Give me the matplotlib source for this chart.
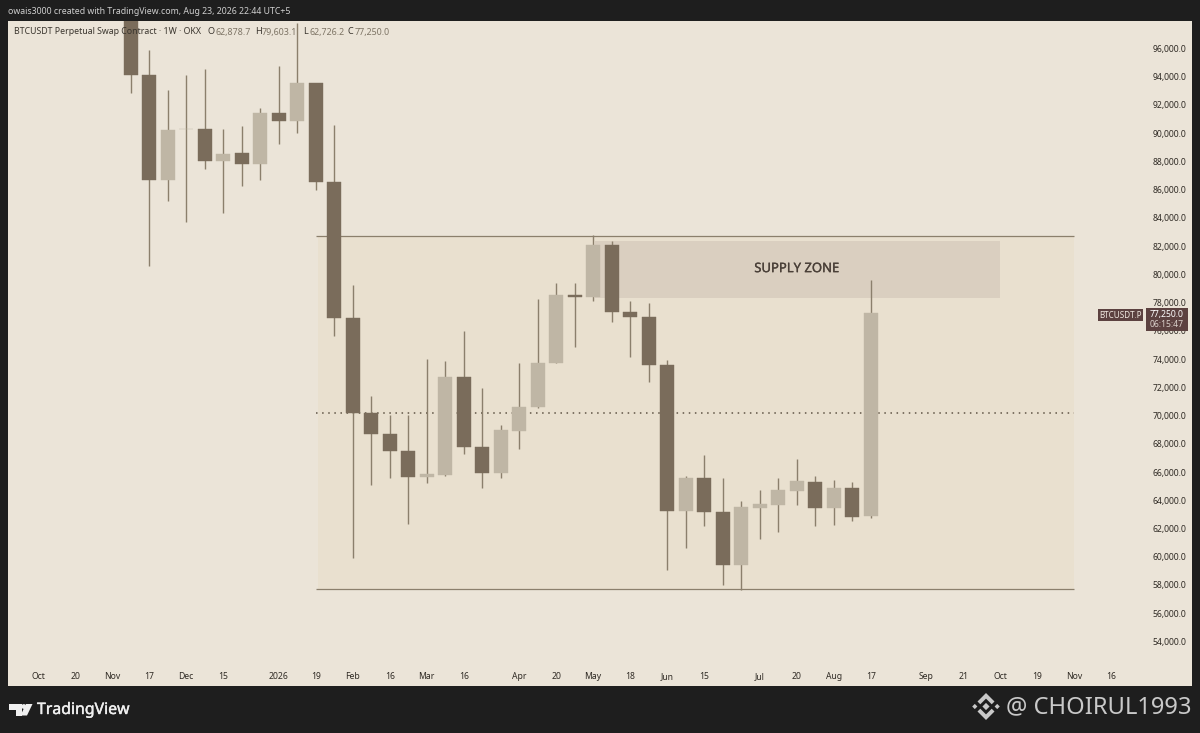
import matplotlib
matplotlib.use("Agg")
import matplotlib.pyplot as plt
import matplotlib.patheffects as pe
from matplotlib.patches import Polygon, Rectangle

# weekly candles, first bar is cut off by the top of the chart
opens = [98500, 94100, 86650, 90250, 90300, 88000, 88550, 87800, 91400, 90850,
         93550, 86550, 76900, 70200, 68700, 67500, 65650, 65800, 72750, 67750,
         65900, 68900, 70600, 73700, 78550, 78400, 82100, 77350, 76950, 73600,
         63250, 65600, 63200, 59450, 63450, 63650, 64650, 65300, 63450, 64850,
         62878.7]
highs = [99000, 95900, 93050, 94100, 94550, 90300, 90500, 91750, 94750, 97800,
         93550, 90550, 79250, 71400, 70050, 70050, 74000, 73850, 75950, 71950,
         69350, 73750, 78250, 79400, 79400, 82800, 82350, 78100, 78000, 73950,
         65700, 67200, 65550, 63950, 64700, 65550, 66900, 65700, 65450, 65300,
         79603.1]
lows = [92850, 80600, 85200, 83700, 87450, 84350, 86250, 86650, 89200, 90000,
        85950, 75650, 59900, 65100, 65600, 62300, 65200, 65700, 67250, 64900,
        65600, 67650, 70550, 73700, 74850, 78100, 76600, 74150, 72350, 59050,
        60650, 62200, 58000, 57650, 61250, 61750, 63650, 62200, 62250, 62500,
        62726.2]
closes = [94100, 86650, 90200, 90300, 88000, 88550, 87800, 91400, 90850, 93550,
          86550, 76900, 70200, 68700, 67500, 65650, 65850, 72750, 67750, 65900,
          69000, 70600, 73700, 78550, 78400, 82100, 77350, 76950, 73600, 63250,
          65600, 63200, 59450, 63500, 63700, 64700, 65350, 63450, 64850, 62800,
          77250]

price_ticks = list(range(54000, 98000, 2000))
time_ticks = [-5, -3, -1, 1, 3, 5, 8, 10, 12, 14, 16, 18, 21, 23, 25, 27, 29, 31,
              34, 36, 38, 40, 43, 45, 47, 49, 51, 53]
time_labels = ["Oct", "20", "Nov", "17", "Dec", "15", "2026", "19", "Feb", "16",
               "Mar", "16", "Apr", "20", "May", "18", "Jun", "15", "Jul", "20",
               "Aug", "17", "Sep", "21", "Oct", "19", "Nov", "16"]

range_high = 82700
range_mid = 70200
range_low = 57700
zone_top = 82350
zone_bottom = 78300

BG = "#ebe4d8"
RANGE_BG = "#e9e0cf"
ZONE = "#dacfc0"
DARK = "#7a6c5b"
LIGHT = "#bfb6a5"
WICK = "#8b7f6c"
FRAME = "#1e1e1e"
TAG = "#5c4140"
FONT = "Noto Sans"
thick = [pe.withStroke(linewidth=0.2, foreground="#4a4038")]
thick_white = [pe.withStroke(linewidth=0.3, foreground="#f0f0f0")]

fig = plt.figure(figsize=(12, 7.33), dpi=100, facecolor=FRAME)
ax = fig.add_axes([8 / 1200, 47 / 733, 1184 / 1200, 665 / 733], facecolor=BG)
ax.set_xlim(-6.63, 57.37)
ax.set_ylim(50849, 97931)
for s in ax.spines.values():
    s.set_visible(False)

# range box and supply zone
ax.add_patch(Rectangle((10.1, range_low), 40.9, range_high - range_low,
                       color=RANGE_BG, lw=0, zorder=1))
ax.add_patch(Rectangle((25.1, zone_bottom), 21.9, zone_top - zone_bottom,
                       color=ZONE, lw=0, zorder=2))
ax.hlines([range_high, range_low], 10, 51, color=WICK, lw=0.9, zorder=3)
ax.hlines(range_mid, 10, 51, color="#5f5445", lw=1.1, linestyles=(0, (1, 3)), zorder=3)
ax.text(36, 80400, "SUPPLY ZONE", color="#4a4038", fontsize=9.4, family=FONT,
        ha="center", va="center", zorder=6, path_effects=thick)

# candles
xs = list(range(len(opens)))
colors = [LIGHT if c >= o else DARK for o, c in zip(opens, closes)]
ax.vlines(xs, lows, highs, color=WICK, lw=1.0, zorder=4)
ax.bar(xs, [abs(c - o) for o, c in zip(opens, closes)],
       bottom=[min(o, c) for o, c in zip(opens, closes)],
       width=0.76, color=colors, edgecolor=colors, linewidth=0.3, zorder=5)

# axes labels sit inside the plot like on the TradingView export
ax.yaxis.tick_right()
ax.set_yticks(price_ticks)
ax.set_yticklabels([f"{p:,.1f}" for p in price_ticks], family=FONT, fontsize=6.2,
                   color="#2f2a24", ha="right")
ax.tick_params(axis="y", length=0, pad=-4)
ax.set_xticks(time_ticks)
ax.set_xticklabels(time_labels, family=FONT, fontsize=6.2, color="#2f2a24", va="baseline")
ax.tick_params(axis="x", length=0, pad=-4.7)
for lab in ax.get_xticklabels():
    if lab.get_text() == "2026":
        lab.set_fontweight("bold")

# overlay in pixels for header, price tag, footer
over = fig.add_axes([0, 0, 1, 1], facecolor="none")
over.set_xlim(0, 1200)
over.set_ylim(733, 0)
over.axis("off")


def label(x, y, s, color, size=6.4, **kw):
    return over.text(x, y, s, color=color, fontsize=size, family=FONT, va="center", **kw)


label(8, 11, "owais3000 created with TradingView.com, Aug 23, 2026 22:44 UTC+5", "#cfcfcf", 6.3)

label(13.5, 32, "BTCUSDT Perpetual Swap Contract · 1W · OKX", "#3a352e", 6.3)
for x, s in [(208, "O"), (255, "H"), (303, "L"), (348, "C")]:
    label(x, 32, s, "#3a352e", 6.6)
for x, p in [(215.5, opens[-1]), (262, highs[-1]), (309, lows[-1]), (355, closes[-1])]:
    label(x, 32, f"{p:,.1f}", "#7d7465")

over.add_patch(Rectangle((1098, 309), 45, 12, color=TAG, lw=0))
over.add_patch(Rectangle((1146, 308), 42, 23, color=TAG, lw=0))
label(1120.5, 315, "BTCUSDT.P", "#f0e8e0", 5.8, ha="center", fontweight="bold")
label(1167, 314, f"{closes[-1]:,.1f}", "#ffffff", 6.2, ha="center", fontweight="bold")
label(1167, 324.5, "06:15:47", "#d9cfc9", 6.2, ha="center")

# TradingView logo
for pts in ([(9, 704), (21.5, 704), (21.5, 715.5), (15.5, 715.5), (15.5, 709.5), (9, 709.5)],
            [(26, 704), (32.5, 704), (27, 715.5), (20.5, 715.5)]):
    over.add_patch(Polygon(pts, closed=True, color="#f0f0f0", lw=0))
over.add_patch(plt.Circle((23.8, 706.5), 2.4, color="#f0f0f0", lw=0))
label(37, 710, "TradingView", "#f0f0f0", 11.4, path_effects=thick_white)

# Binance mark
GREY = "#c9c9c9"
for cx, r in [(986, 3.6), (974.8, 2.6), (997.2, 2.6)]:
    over.add_patch(Polygon([(cx, 706.5 - r), (cx + r, 706.5), (cx, 706.5 + r), (cx - r, 706.5)],
                           closed=True, color=GREY, lw=0))
for pts in ([(986, 693), (994.5, 701.5), (991.7, 704.3), (986, 698.6), (980.3, 704.3), (977.5, 701.5)],
            [(986, 720), (994.5, 711.5), (991.7, 708.7), (986, 714.4), (980.3, 708.7), (977.5, 711.5)]):
    over.add_patch(Polygon(pts, closed=True, color=GREY, lw=0))
label(1006, 707, "@ CHOIRUL1993", GREY, 17.1)

fig.savefig("out.png", dpi=100, facecolor=FRAME)
